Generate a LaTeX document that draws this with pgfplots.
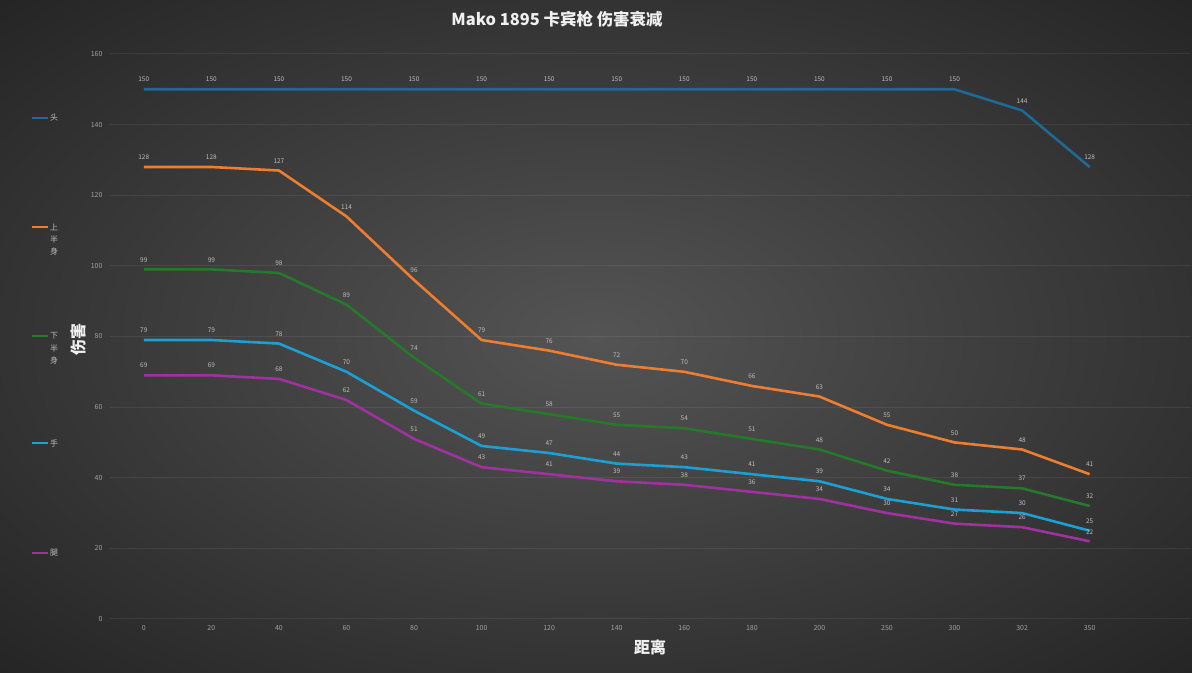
\documentclass[border=0pt]{standalone}
\usepackage{pgfplots}
\usepackage{pgfplotstable}
\pgfplotsset{compat=1.18}
\usepackage{fontspec}
\setmainfont{Noto Sans CJK SC}
\definecolor{bgin}{RGB}{84,84,84}
\definecolor{bgout}{RGB}{36,36,36}
\definecolor{chead}{RGB}{30,105,150}
\definecolor{cupper}{RGB}{237,125,49}
\definecolor{clower}{RGB}{38,120,42}
\definecolor{chand}{RGB}{28,160,212}
\definecolor{cleg}{RGB}{160,50,160}
\definecolor{lbl}{RGB}{190,190,190}
\definecolor{tickc}{RGB}{160,160,160}
\pgfdeclareradialshading{bgshade}{\pgfpoint{0bp}{0bp}}{color(0bp)=(bgin); color(36bp)=(bgout); color(50bp)=(bgout)}

\pgfplotstableread{
x head upper lower hand leg
0  150 128 99 79 69
1  150 128 99 79 69
2  150 127 98 78 68
3  150 114 89 70 62
4  150 96  74 59 51
5  150 79  61 49 43
6  150 76  58 47 41
7  150 72  55 44 39
8  150 70  54 43 38
9  150 66  51 41 36
10 150 63  48 39 34
11 150 55  42 34 30
12 150 50  38 31 27
13 144 48  37 30 26
14 128 41  32 25 22
}\data

\begin{document}
\begin{tikzpicture}[x=1bp,y=1bp]
\shade[shading=bgshade] (0,0) rectangle (1192,673);
\path[use as bounding box] (0,0) rectangle (1192,673);
\begin{axis}[
  at={(110bp,54bp)}, anchor=south west,
  width=1081bp, height=565bp, scale only axis,
  xmin=-0.5, xmax=15.5, ymin=0, ymax=160,
  xtick={0,...,14},
  xticklabels={0,20,40,60,80,100,120,140,160,180,200,250,300,302,350},
  ytick={0,20,...,160},
  axis line style={draw=none},
  major tick length=0pt,
  ymajorgrids,
  grid style={white, opacity=0.07, line width=1bp},
  ticklabel style={font=\fontsize{7}{8}\selectfont, text=tickc},
  xticklabel style={yshift=-3bp},
  yticklabel style={xshift=-4bp},
  /pgf/number format/assume math mode=true,
  clip=false,
  point meta=y,
  nodes near coords,
  every node near coord/.style={font=\fontsize{6.5}{7}\selectfont, text=lbl, anchor=south, inner sep=0pt, yshift=6bp},
  every axis plot/.append style={line width=2.6bp, mark=none, line join=round},
]
\addplot[chead] table[x=x,y=head]{\data};
\addplot[cupper] table[x=x,y=upper]{\data};
\addplot[clower] table[x=x,y=lower]{\data};
\addplot[chand] table[x=x,y=hand]{\data};
\addplot[cleg] table[x=x,y=leg]{\data};
\end{axis}
% title and axis labels
\node[font=\bfseries\fontsize{16.5}{18}\selectfont, text={rgb,255:red,240;green,240;blue,240}] at (557,654) {Mako 1895 卡宾枪 伤害衰减};
\node[rotate=90, font=\bfseries\fontsize{16}{18}\selectfont, text={rgb,255:red,240;green,240;blue,240}] at (78,333) {伤害};
\node[font=\bfseries\fontsize{16}{18}\selectfont, text={rgb,255:red,240;green,240;blue,240}] at (650,26) {距离};
% legend
\tikzset{lg/.style={font=\fontsize{8}{9}\selectfont, text=lbl, inner sep=0pt, anchor=center}}
\draw[chead, line width=2.2bp] (32,555) -- (48,555);
\node[lg] at (54,555) {头};
\draw[cupper, line width=2.2bp] (32,446) -- (48,446);
\node[lg] at (54,446) {上};
\node[lg] at (54,434) {半};
\node[lg] at (54,422) {身};
\draw[clower, line width=2.2bp] (32,337) -- (48,337);
\node[lg] at (54,337) {下};
\node[lg] at (54,325) {半};
\node[lg] at (54,313) {身};
\draw[chand, line width=2.2bp] (32,230) -- (48,230);
\node[lg] at (54,230) {手};
\draw[cleg, line width=2.2bp] (32,120) -- (48,120);
\node[lg] at (54,120) {腿};
\end{tikzpicture}
\end{document}
